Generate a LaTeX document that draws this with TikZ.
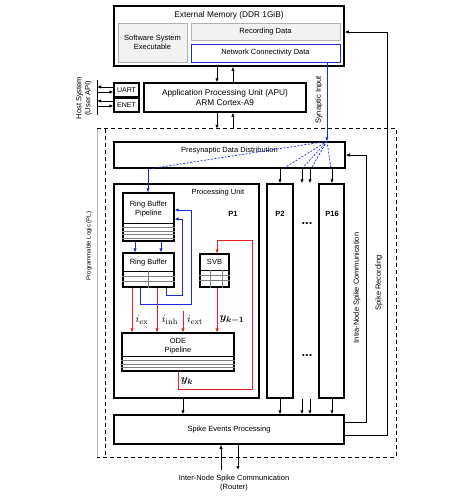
\documentclass[tikz,border=0pt]{standalone}
\usepackage[no-math]{fontspec}
\setmainfont{Liberation Sans}
\usepackage{bm}
\usetikzlibrary{arrows.meta,calc,positioning}
\definecolor{synblue}{RGB}{30,40,220}
\definecolor{odered}{RGB}{232,30,36}
\tikzset{
	blk/.style = {draw, line width=1.5pt, inner sep=0pt, align=center},
	sub/.style = {draw, line width=1.1pt, inner sep=0pt, align=center},
	memfield/.style = {draw=gray!60, fill=gray!10, line width=0.8pt, inner sep=0pt, align=center},
	lbl/.style = {font=\fontsize{7.5}{9}\selectfont, align=center, inner sep=0pt},
	mathlbl/.style = {font=\fontsize{11}{12}\selectfont, inner sep=0pt},
	dotrow/.style = {font=\bfseries\fontsize{13}{13}\selectfont, inner sep=0pt, anchor=base},
	sig/.style = {line width=0.8pt, ->},
	blu/.style = {synblue, line width=1pt, ->},
	rd/.style = {odered, line width=0.8pt, ->},
	fan/.style = {synblue, line width=0.7pt, dash pattern=on 2pt off 1.5pt},
	row/.style = {gray, line width=0.4pt},
}

\begin{document}
\begin{tikzpicture}[x=1pt, y=-1pt, >={Latex[length=4pt,width=3.4pt]}, font=\fontsize{7.5}{9}\selectfont]
	\useasboundingbox (0,0) rectangle (474,499);
	% external memory
	\node[blk, minimum width=230pt, minimum height=60pt] (mem) at (229,36) {};
	\node[lbl, font=\fontsize{8.3}{10}\selectfont] (memtitle) at (229,15) {External Memory (DDR 1GiB)};
	\node[memfield, minimum width=69pt, minimum height=39pt] (sw) at (152.5,42.5) {Software System\\Executable};
	\node[memfield, minimum width=149pt, minimum height=17pt] (rec) at (265.5,31.5) {Recording Data};
	\node[memfield, draw=synblue, fill=white, minimum width=149pt, minimum height=18pt] (ncd) at (265.5,53) {Network Connectivity Data};
	% APU and host interfaces
	\node[blk, minimum width=162pt, minimum height=29pt, font=\fontsize{8.3}{9.5}\selectfont] (apu) at (225,97.5) {Application Processing Unit (APU)\\ARM Cortex-A9};
	\node[sub, minimum width=25pt, minimum height=14pt, font=\fontsize{7}{8}\selectfont] (uart) at (126.5,90) {UART};
	\node[sub, minimum width=25pt, minimum height=14pt, font=\fontsize{7}{8}\selectfont] (enet) at (126.5,105) {ENET};
	\coordinate (htop) at (97,80);
	\coordinate (hbot) at (97,115);
	\draw[line width=0.8pt] (htop) -- (hbot);
	\draw[sig] (uart.west |- 0,87) -- (htop |- 0,87);
	\draw[sig] (htop |- 0,92) -- (uart.west |- 0,92);
	\draw[sig] (enet.west |- 0,101) -- (htop |- 0,101);
	\draw[sig] (htop |- 0,106) -- (enet.west |- 0,106);
	\node[lbl, rotate=90] (host) at (84,98) {Host System\\(User API)};
	% programmable logic
	\node[inner sep=0pt, minimum width=299pt, minimum height=328pt] (pl) at (246.5,293) {};
	\draw[gray!60, line width=0.6pt] (pl.north west) -- (pl.south west);
	\draw[line width=1pt, dash pattern=on 4pt off 3pt] (pl.north west) -- (pl.north east) -- (pl.south east) -- (pl.south west);
	\draw[line width=1.2pt, dash pattern=on 4pt off 3pt] ($(pl.north west)+(9,0)$) -- ($(pl.south west)+(9,0)$);
	\node[lbl, font=\fontsize{6}{7}\selectfont, rotate=90] (pllbl) at (89,246) {Programmable Logic (PL)};
	\draw[sig] (mem.south -| 217,0) -- (apu.north -| 217,0);
	\draw[sig] (apu.north -| 233,0) -- (mem.south -| 233,0);
	\draw[sig] (apu.south -| 217,0) -- (pl.north -| 217,0);
	\draw[sig] (pl.north -| 233,0) -- (apu.south -| 233,0);
	% presynaptic, processing units, spike events
	\node[blk, minimum width=231pt, minimum height=26pt] (pre) at (229.5,155) {};
	\node[lbl] (pretxt) at (229.5,150.5) {Presynaptic Data Distribution};
	\node[blk, minimum width=145pt, minimum height=214pt] (pu) at (186.5,291) {};
	\node[blk, minimum width=26pt, minimum height=214pt] (p2) at (280,291) {};
	\node[blk, minimum width=25pt, minimum height=214pt] (p16) at (331.5,291) {};
	\node[blk, minimum width=230pt, minimum height=29pt] (sep) at (229,429.5) {Spike Events Processing};
	\node[lbl] (pulbl) at (218,193) {Processing Unit};
	\node[lbl] (p1lbl) at (233,214) {\bfseries P1};
	\node[lbl] (p2lbl) at (280,214) {\bfseries P2};
	\node[lbl] (p16lbl) at (332,214) {\bfseries P16};
	\node[dotrow] (dotsup) at (307,224.5) {...};
	\node[dotrow] (dotsdn) at (307,356.5) {...};
	% synaptic input
	\draw[blu] (ncd.south -| 327,0) -- (pre.north -| 327,0) coordinate (syn);
	\node[lbl, rotate=90] (synlbl) at (319,100) {Synaptic Input};
	\foreach \x in {150,283,302,311,331}
		\draw[fan] (syn) -- (pre.south -| \x,0);
	\foreach \x in {280,302,310,332}
		\draw[sig] (pre.south -| \x,0) -- (pu.north -| \x,0);
	\foreach \x in {183,280,302,310,332}
		\draw[sig] (pu.south -| \x,0) -- (sep.north -| \x,0);
	% router
	\coordinate (rin) at (221,470);
	\coordinate (rout) at (238,470);
	\draw[sig] (rin) -- (sep.south -| rin);
	\draw[sig] (sep.south -| rout) -- (rout);
	\node[lbl] (router) at (234,483) {Inter-Node Spike Communication\\(Router)};
	% intra-node and recording loops
	\draw[sig] (sep.east |- 0,422) -| (366,155) -- (pre.east);
	\draw[sig] (sep.east |- 0,435) -| (387,32) -- (mem.east |- 0,32);
	\node[lbl, rotate=90] (intralbl) at (357,288) {Intra-Node Spike Communication};
	\node[lbl, rotate=90] (reclbl) at (379,283) {Spike Recording};
	% ring buffer pipeline
	\node[sub, minimum width=51pt, minimum height=48pt] (rbp) at (148.5,217) {};
	\node[lbl] (rbptxt) at (148.5,209.5) {Ring Buffer\\Pipeline};
	\draw[line width=0.7pt] (rbp.west |- 0,223) -- (rbp.east |- 0,223);
	\foreach \y in {227,231,234,238}
		\draw[row] (rbp.west |- 0,\y) -- (rbp.east |- 0,\y);
	% ring buffer
	\node[sub, minimum width=51pt, minimum height=34pt] (rb) at (148.5,270) {};
	\node[lbl] (rbtxt) at (148.5,263) {Ring Buffer};
	\draw[line width=0.7pt] (rb.west |- 0,271) -- (rb.east |- 0,271);
	\foreach \y in {276,281}
		\draw[row] (rb.west |- 0,\y) -- (rb.east |- 0,\y);
	\draw[row] (148,271) -- (rb.south -| 148,0);
	% state vector buffer
	\node[sub, minimum width=29pt, minimum height=33pt] (svb) at (214.5,270.5) {};
	\node[lbl] (svbtxt) at (214.5,262) {SVB};
	\draw[line width=0.7pt] (svb.west |- 0,270) -- (svb.east |- 0,270);
	\foreach \y in {275,280}
		\draw[row] (svb.west |- 0,\y) -- (svb.east |- 0,\y);
	\foreach \x in {210,222}
		\draw[row] (\x,270) -- (svb.south -| \x,0);
	% ODE pipeline
	\node[sub, minimum width=112pt, minimum height=38pt] (ode) at (178,352) {};
	\node[lbl] (odetxt) at (178,346.5) {ODE\\Pipeline};
	\draw[line width=0.7pt] (ode.west |- 0,356) -- (ode.east |- 0,356);
	\foreach \y in {360,364,367}
		\draw[row] (ode.west |- 0,\y) -- (ode.east |- 0,\y);
	% blue data paths
	\draw[blu] (pre.south -| 148,0) -- (rbp.north -| 148,0);
	\foreach \x in {135,161}
		\draw[blu] (rbp.south -| \x,0) -- (rb.north -| \x,0);
	\draw[blu] (rb.south -| 140,0) |- (191,304) |- (rbp.east |- 0,210);
	\draw[blu] (rb.south -| 166,0) |- (182,295) |- (rbp.east |- 0,219);
	% red data paths
	\foreach \x in {132,157}
		\draw[rd] (rb.south -| \x,0) -- (ode.north -| \x,0);
	\coordinate (iext) at (183,311);
	\draw[rd] (iext) -- (ode.north -| iext);
	\draw[rd] (svb.south -| 217,0) -- (ode.north -| 217,0);
	\draw[rd] (ode.south -| 178,0) |- (252,389) |- (217,240) -- (svb.north -| 217,0);
	\node[mathlbl] (iex) at (142,320) {$i_{\mathrm{ex}}$};
	\node[mathlbl] (iinh) at (170,320) {$i_{\mathrm{inh}}$};
	\node[mathlbl] (iextlbl) at (195,320) {$i_{\mathrm{ext}}$};
	\node[mathlbl] (ykm) at (232,320) {$\bm{y_{k-1}}$};
	\node[mathlbl] (yk) at (187,381) {$\bm{y_k}$};
\end{tikzpicture}
\end{document}
